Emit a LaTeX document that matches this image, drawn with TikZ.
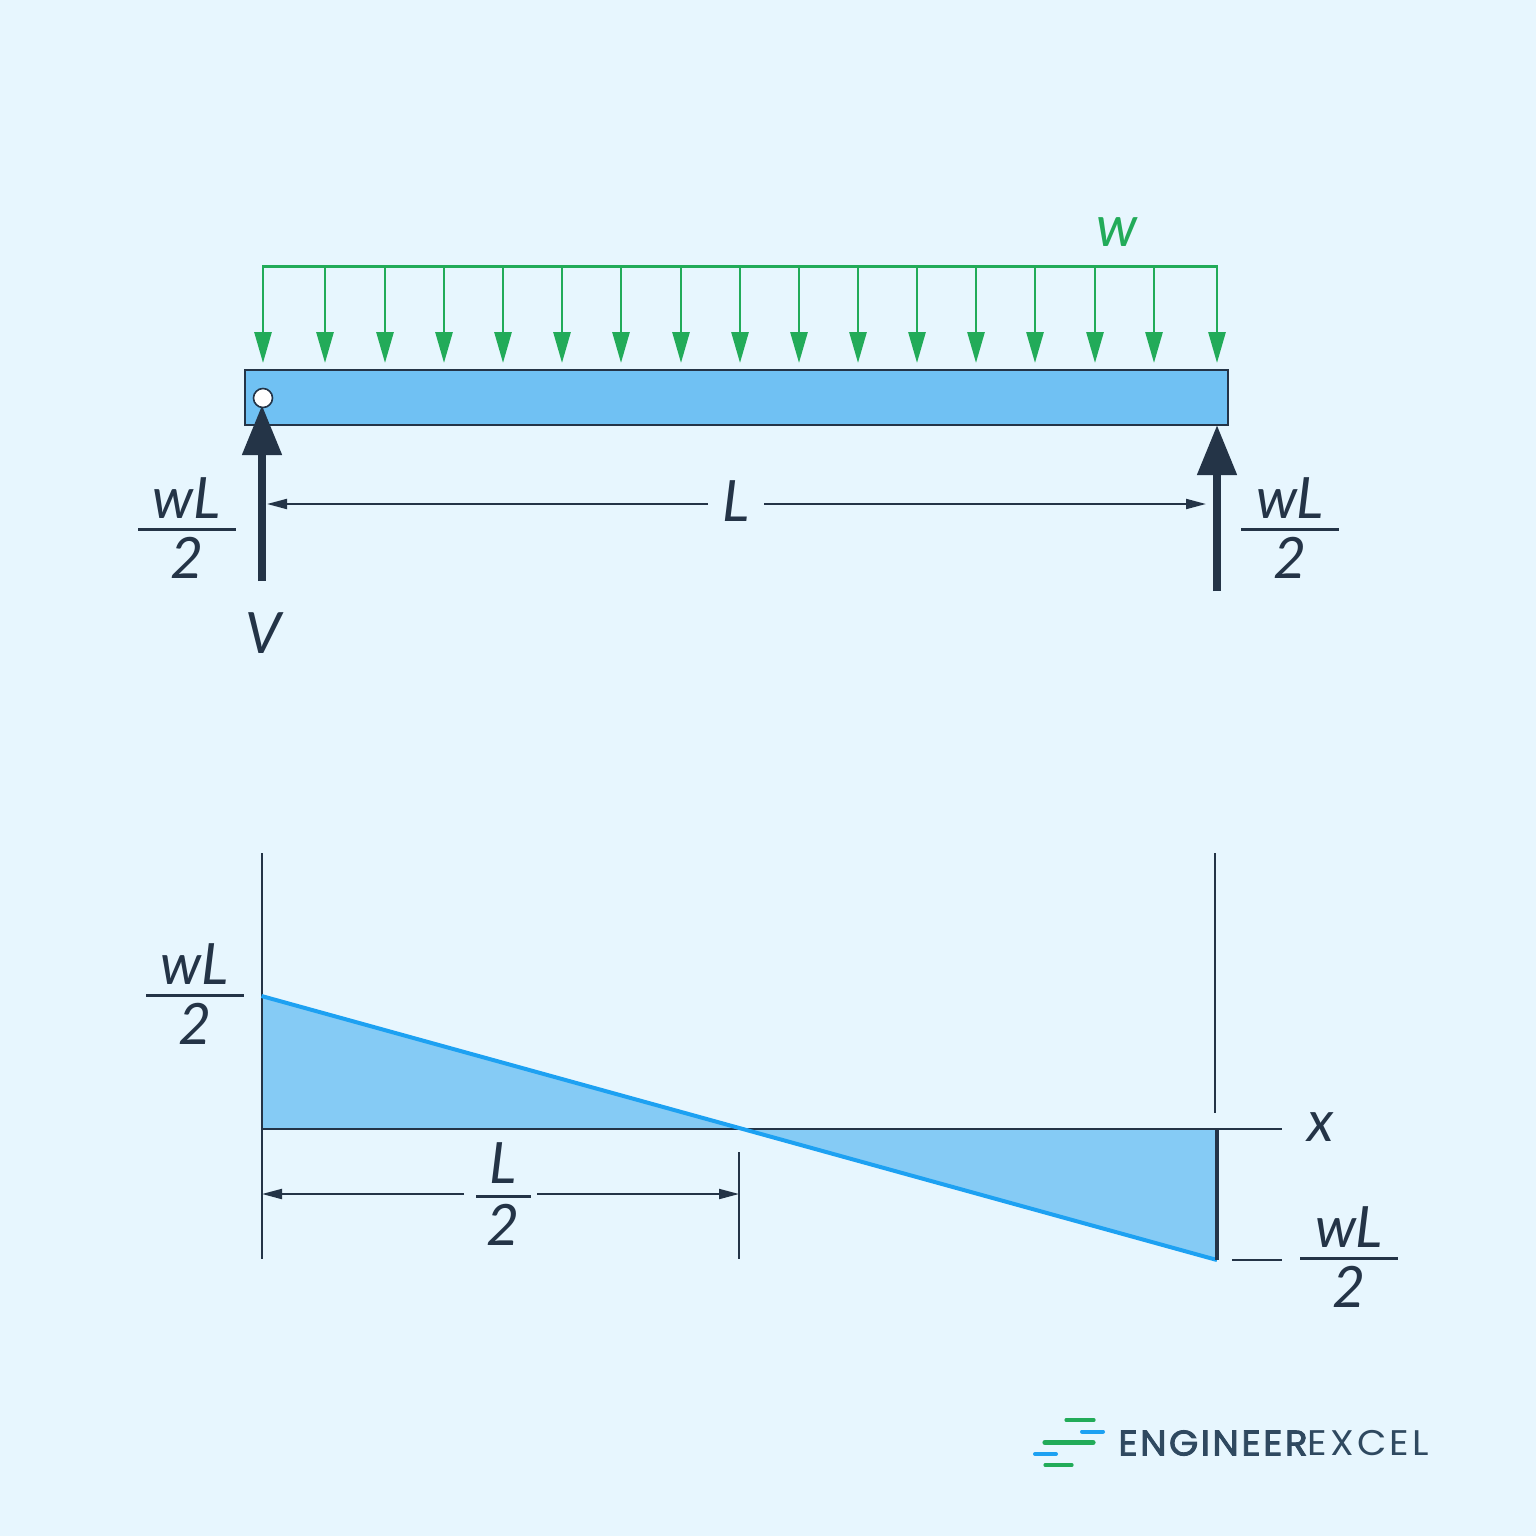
\documentclass[tikz,border=0pt]{standalone}
\usepackage{fontspec}
\setmainfont{Lato}
\newfontfamily\logoboldf[FakeBold=2.5,FakeStretch=1.055,LetterSpace=7]{Poppins}
\newfontfamily\logolightf[FakeStretch=1.07,LetterSpace=9]{Poppins}
\usetikzlibrary{arrows.meta}
\definecolor{bgc}{HTML}{E7F6FE}
\definecolor{inkc}{HTML}{243447}
\definecolor{greenc}{HTML}{22AB59}
\definecolor{beamc}{HTML}{70C1F3}
\definecolor{shearc}{HTML}{85CBF5}
\definecolor{bluec}{HTML}{1DA1F2}
\definecolor{logoc}{HTML}{2F4960}
\tikzset{
  lbl/.style={inner sep=0pt,text=inkc,font=\fontsize{28.5}{30}\selectfont\itshape},
  thinln/.style={draw=inkc,line width=1pt},
  fracbar/.style={draw=inkc,line width=1.5pt},
  load/.style={draw=greenc,line width=1.4pt,-{Triangle[length=15.5pt,width=8.5pt]}},
  react/.style={draw=inkc,line width=4pt,-{Triangle[length=25pt,width=19pt]}},
  dim/.style={thinln,-{Triangle[length=10pt,width=5pt]}},
  lg/.style={line width=1.6pt,line cap=round},
}
\newcommand{\fracnode}[4]{% name, x, bar y, numerator
  \node[lbl] (#1n) at (#2,#3-31) {#4};
  \node[lbl] (#1d) at (#2,#3+29) {2};
  \coordinate (#1a) at (#2-49,#3);
  \coordinate (#1b) at (#2+49,#3);
  \draw[fracbar] (#1a) -- (#1b);
}
\begin{document}
\begin{tikzpicture}[x=0.5pt,y=-0.5pt]
\useasboundingbox (0,0) rectangle (1536,1536);
\fill[bgc] (0,0) rectangle (1536,1536);
% load
\coordinate (barL) at (263,266.5);
\coordinate (barR) at (1217,266.5);
\draw[greenc,line width=1.3pt,line cap=rect] (barL) -- (barR);
\foreach \x in {263,325,385,444,503,562,621,681,740,799,858,917,976,1035,1095,1154,1217}{
  \coordinate (top\x) at (\x,266);
  \coordinate (tip\x) at (\x,363);
  \draw[load] (top\x) -- (tip\x);
}
\node[lbl,text=greenc] (w) at (1117,232.5) {w};
% beam
\node[draw=inkc,fill=beamc,line width=1pt,outer sep=0pt,minimum width=491.5pt,minimum height=27.5pt,inner sep=0pt] (beam) at (736.5,397.5) {};
% left reaction
\coordinate (la) at (262,581);
\coordinate (lb) at (262,405);
\draw[react] (la) -- (lb);
\node[circle,draw=inkc,fill=white,line width=0.8pt,minimum size=9.5pt,inner sep=0pt] (pin) at (263,398) {};
\coordinate (ra) at (1217,591);
\coordinate (rb) at (1217,425);
\draw[react] (ra) -- (rb);
% span dimension
\node[lbl] (L) at (736,501) {L};
\coordinate (d1) at (267,504);
\coordinate (d1b) at (708,504);
\coordinate (d2) at (764,504);
\coordinate (d2b) at (1206,504);
\draw[dim] (d1b) -- (d1);
\draw[dim] (d2) -- (d2b);
\node[lbl] (V) at (263,633) {V};
\fracnode{fa}{187}{529}{wL}
\fracnode{fb}{1290}{529}{wL}
% shear diagram
\coordinate (s0) at (261.5,996);
\coordinate (s1) at (261.5,1129);
\coordinate (s2) at (741,1129);
\coordinate (s3) at (1217,1129);
\coordinate (s4) at (1217,1260);
\fill[shearc] (s0) -- (s1) -- (s2) -- cycle;
\fill[shearc] (s2) -- (s3) -- (s4) -- cycle;
\coordinate (v1a) at (261.5,853);
\coordinate (v1b) at (261.5,1259);
\draw[thinln] (v1a) -- (v1b);
\coordinate (v2a) at (1215,853);
\coordinate (v2b) at (1215,1113);
\draw[thinln] (v2a) -- (v2b);
\coordinate (axe) at (1282,1129);
\draw[thinln] (s1) -- (axe);
\draw[bluec,line width=2pt] (s0) -- (s4);
\draw[inkc,line width=2pt] (s3) -- (s4);
\coordinate (v3a) at (739,1152);
\coordinate (v3b) at (739,1259);
\draw[thinln] (v3a) -- (v3b);
\coordinate (t1) at (1232,1260);
\coordinate (t2) at (1282,1260);
\draw[thinln] (t1) -- (t2);
\coordinate (e1) at (262,1194);
\coordinate (e1b) at (464,1194);
\coordinate (e2) at (537,1194);
\coordinate (e2b) at (739,1194);
\draw[dim] (e1b) -- (e1);
\draw[dim] (e2) -- (e2b);
\node[lbl] (hL) at (503,1163) {L};
\node[lbl] (h2) at (503,1225) {2};
\coordinate (hba) at (476,1196);
\coordinate (hbb) at (531,1196);
\draw[fracbar] (hba) -- (hbb);
\fracnode{fc}{195}{995}{wL}
\fracnode{fd}{1349}{1258}{wL}
\node[lbl] (x) at (1321,1127) {x};
% logo
\coordinate (g1a) at (1066,1420); \coordinate (g1b) at (1094,1420);
\coordinate (b1a) at (1082,1431.5); \coordinate (b1b) at (1103,1431.5);
\coordinate (g2a) at (1045,1442.5); \coordinate (g2b) at (1093,1442.5);
\coordinate (b2a) at (1035,1454); \coordinate (b2b) at (1056,1454);
\coordinate (g3a) at (1045,1465); \coordinate (g3b) at (1072,1465);
\draw[lg,greenc] (g1a) -- (g1b);
\draw[lg,bluec,line width=2pt] (b1a) -- (b1b);
\draw[lg,greenc,line width=2.6pt] (g2a) -- (g2b);
\draw[lg,bluec,line width=2pt] (b2a) -- (b2b);
\draw[lg,greenc] (g3a) -- (g3b);
\node[inner sep=0pt,anchor=west,text=logoc,font=\fontsize{17.8}{20}\selectfont] (logo) at (1118,1443)
  {{\logoboldf ENGINEER}{\logolightf EXCEL}};
\end{tikzpicture}
\end{document}
